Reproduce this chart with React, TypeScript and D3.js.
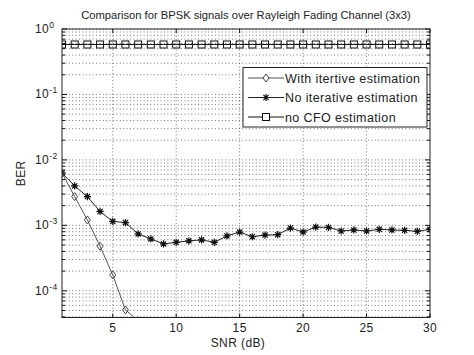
import React from "react";
import * as d3 from "d3";

const snr: number[] = Array.from({ length: 30 }, (_, i) => i + 1);
const withIterative: number[] = [6.3e-3, 2.75e-3, 1.21e-3, 4.8e-4, 1.75e-4, 5.1e-5, 3.5e-5];
const noIterative: number[] = [
  6.3e-3, 4.0e-3, 2.75e-3, 1.63e-3, 1.15e-3, 1.1e-3, 7.4e-4, 6.2e-4, 5.2e-4, 5.5e-4,
  5.8e-4, 6.0e-4, 5.5e-4, 6.9e-4, 7.9e-4, 6.7e-4, 7.1e-4, 7.2e-4, 9.1e-4, 7.9e-4,
  9.4e-4, 9.3e-4, 8.2e-4, 8.5e-4, 8.2e-4, 8.7e-4, 8.5e-4, 8.4e-4, 8.1e-4, 8.7e-4,
];
const noCFO: number[] = [
  0.58, 0.58, 0.58, 0.58, 0.58, 0.58, 0.58, 0.58, 0.58, 0.58,
  0.58, 0.58, 0.58, 0.58, 0.58, 0.58, 0.58, 0.58, 0.58, 0.58,
  0.58, 0.58, 0.58, 0.58, 0.58, 0.58, 0.58, 0.58, 0.58, 0.58,
];
const xTicks: number[] = [5, 10, 15, 20, 25, 30];
const yDecades: number[] = [0, -1, -2, -3, -4];
const legendLabels: string[] = ["With itertive estimation", "No iterative estimation", "no CFO estimation"];
const title = "Comparison for BPSK signals over Rayleigh Fading Channel (3x3)";

const W = 474, H = 355;
const L = 62, R = 430, T = 29, B = 317.5;
const font = "Arial, 'Liberation Sans', Helvetica, sans-serif";

function starPath(x: number, y: number, r: number) {
  const d = r * 0.72;
  return `M${x - r},${y}H${x + r}M${x},${y - r}V${y + r}M${x - d},${y - d}L${x + d},${y + d}M${x - d},${y + d}L${x + d},${y - d}`;
}
function diamondPath(x: number, y: number, w: number, h: number) {
  return `M${x},${y - h}L${x + w},${y}L${x},${y + h}L${x - w},${y}Z`;
}

export default function App() {
  const x = d3.scaleLinear().domain([1, 30]).range([L, R]);
  const y = d3.scaleLog().domain([Math.pow(10, -4.408), 1]).range([B, T]);
  const line = d3.line<[number, number]>().x((d) => x(d[0])).y((d) => y(d[1]));

  const minorVals: number[] = [];
  for (let e = -5; e < 0; e++) {
    for (let m = 2; m <= 9; m++) {
      const v = m * Math.pow(10, e);
      if (v >= y.domain()[0] && v <= 1) minorVals.push(v);
    }
  }

  const wi: [number, number][] = withIterative.map((v, i) => [snr[i], v]);
  const ni: [number, number][] = noIterative.map((v, i) => [snr[i], v]);
  const nc: [number, number][] = noCFO.map((v, i) => [snr[i], v]);

  const gridStyle = { stroke: "#555", strokeWidth: 0.8, strokeDasharray: "1,2.4" };

  const legX = 243, legY = 67.5, legW = 184, legH = 59.5;
  const rows = [78, 97.5, 117];

  return (
    <svg width={W} height={H} style={{ position: "absolute", left: 0, top: 0, background: "#fff" }}>
      <defs>
        <clipPath id="plotclip">
          <rect x={L} y={T} width={R - L} height={B - T} />
        </clipPath>
      </defs>
      <rect x={0} y={0} width={W} height={H} fill="#fff" />
      <g>
        {minorVals.map((v, i) => (
          <line key={"mg" + i} x1={L} x2={R} y1={y(v)} y2={y(v)} {...gridStyle} />
        ))}
        {yDecades.map((e) => (
          <line key={"yg" + e} x1={L} x2={R} y1={y(Math.pow(10, e))} y2={y(Math.pow(10, e))} {...gridStyle} />
        ))}
        {xTicks.slice(0, -1).map((t) => (
          <line key={"xg" + t} x1={x(t)} x2={x(t)} y1={T} y2={B} {...gridStyle} />
        ))}
      </g>
      <g stroke="#111" strokeWidth={1}>
        {xTicks.map((t) => (
          <g key={"xt" + t}>
            <line x1={x(t)} x2={x(t)} y1={B} y2={B - 4} />
            <line x1={x(t)} x2={x(t)} y1={T} y2={T + 4} />
          </g>
        ))}
        {yDecades.map((e) => (
          <g key={"yt" + e}>
            <line x1={L} x2={L + 5} y1={y(Math.pow(10, e))} y2={y(Math.pow(10, e))} />
            <line x1={R} x2={R - 5} y1={y(Math.pow(10, e))} y2={y(Math.pow(10, e))} />
          </g>
        ))}
        {minorVals.map((v, i) => (
          <g key={"ym" + i}>
            <line x1={L} x2={L + 3} y1={y(v)} y2={y(v)} />
            <line x1={R} x2={R - 3} y1={y(v)} y2={y(v)} />
          </g>
        ))}
      </g>
      <g clipPath="url(#plotclip)" fill="none">
        <path d={line(nc) || ""} stroke="#111" strokeWidth={1} />
        {nc.map((d, i) => (
          <rect key={"sq" + i} x={x(d[0]) - 3.5} y={y(d[1]) - 3.5} width={7} height={7} stroke="#111" strokeWidth={1} fill="none" />
        ))}
        <path d={line(ni) || ""} stroke="#222" strokeWidth={1} />
        {ni.map((d, i) => (
          <path key={"st" + i} d={starPath(x(d[0]), y(d[1]), 3.6)} stroke="#111" strokeWidth={1.2} />
        ))}
        <path d={line(wi) || ""} stroke="#555" strokeWidth={1} />
        {wi.map((d, i) => (
          <path key={"dm" + i} d={diamondPath(x(d[0]), y(d[1]), 3, 4)} stroke="#444" strokeWidth={1} fill="none" />
        ))}
      </g>
      <rect x={L} y={T} width={R - L} height={B - T} fill="none" stroke="#222" strokeWidth={1} />
      <g fontFamily={font} fontSize={12} fill="#222" letterSpacing={0.4}>
        {xTicks.map((t) => (
          <text key={"xl" + t} x={x(t)} y={332} textAnchor="middle">{t}</text>
        ))}
        {yDecades.map((e) => (
          <text key={"yl" + e} x={35} y={y(Math.pow(10, e)) + 4}>
            10
            <tspan dy={-5} fontSize={8.5}>{e === 0 ? "0" : "-" + Math.abs(e)}</tspan>
          </text>
        ))}
      </g>
      <text x={238} y={347} textAnchor="middle" fontFamily={font} fontSize={12} letterSpacing={0.4} fill="#222">SNR (dB)</text>
      <text transform={`translate(25,${(T + B) / 2}) rotate(-90)`} textAnchor="middle" fontFamily={font} fontSize={12} letterSpacing={0.4} fill="#222">BER</text>
      <text x={246} y={19} textAnchor="middle" fontFamily={font} fontSize={11.2} fill="#222">{title}</text>
      <g>
        <rect x={legX} y={legY} width={legW} height={legH} fill="#fff" stroke="#222" strokeWidth={1} />
        <line x1={248} x2={284} y1={rows[0]} y2={rows[0]} stroke="#555" />
        <path d={diamondPath(266, rows[0], 3, 4)} stroke="#444" fill="#fff" />
        <line x1={248} x2={284} y1={rows[1]} y2={rows[1]} stroke="#222" />
        <path d={starPath(266, rows[1], 3.6)} stroke="#111" strokeWidth={1.2} fill="none" />
        <line x1={248} x2={284} y1={rows[2]} y2={rows[2]} stroke="#111" />
        <rect x={262.5} y={rows[2] - 3.5} width={7} height={7} stroke="#111" fill="#fff" />
        {legendLabels.map((s, i) => (
          <text key={"lg" + i} x={285} y={rows[i] + 4.5} fontFamily={font} fontSize={12.5} letterSpacing={0.4} fill="#222">{s}</text>
        ))}
      </g>
    </svg>
  );
}
